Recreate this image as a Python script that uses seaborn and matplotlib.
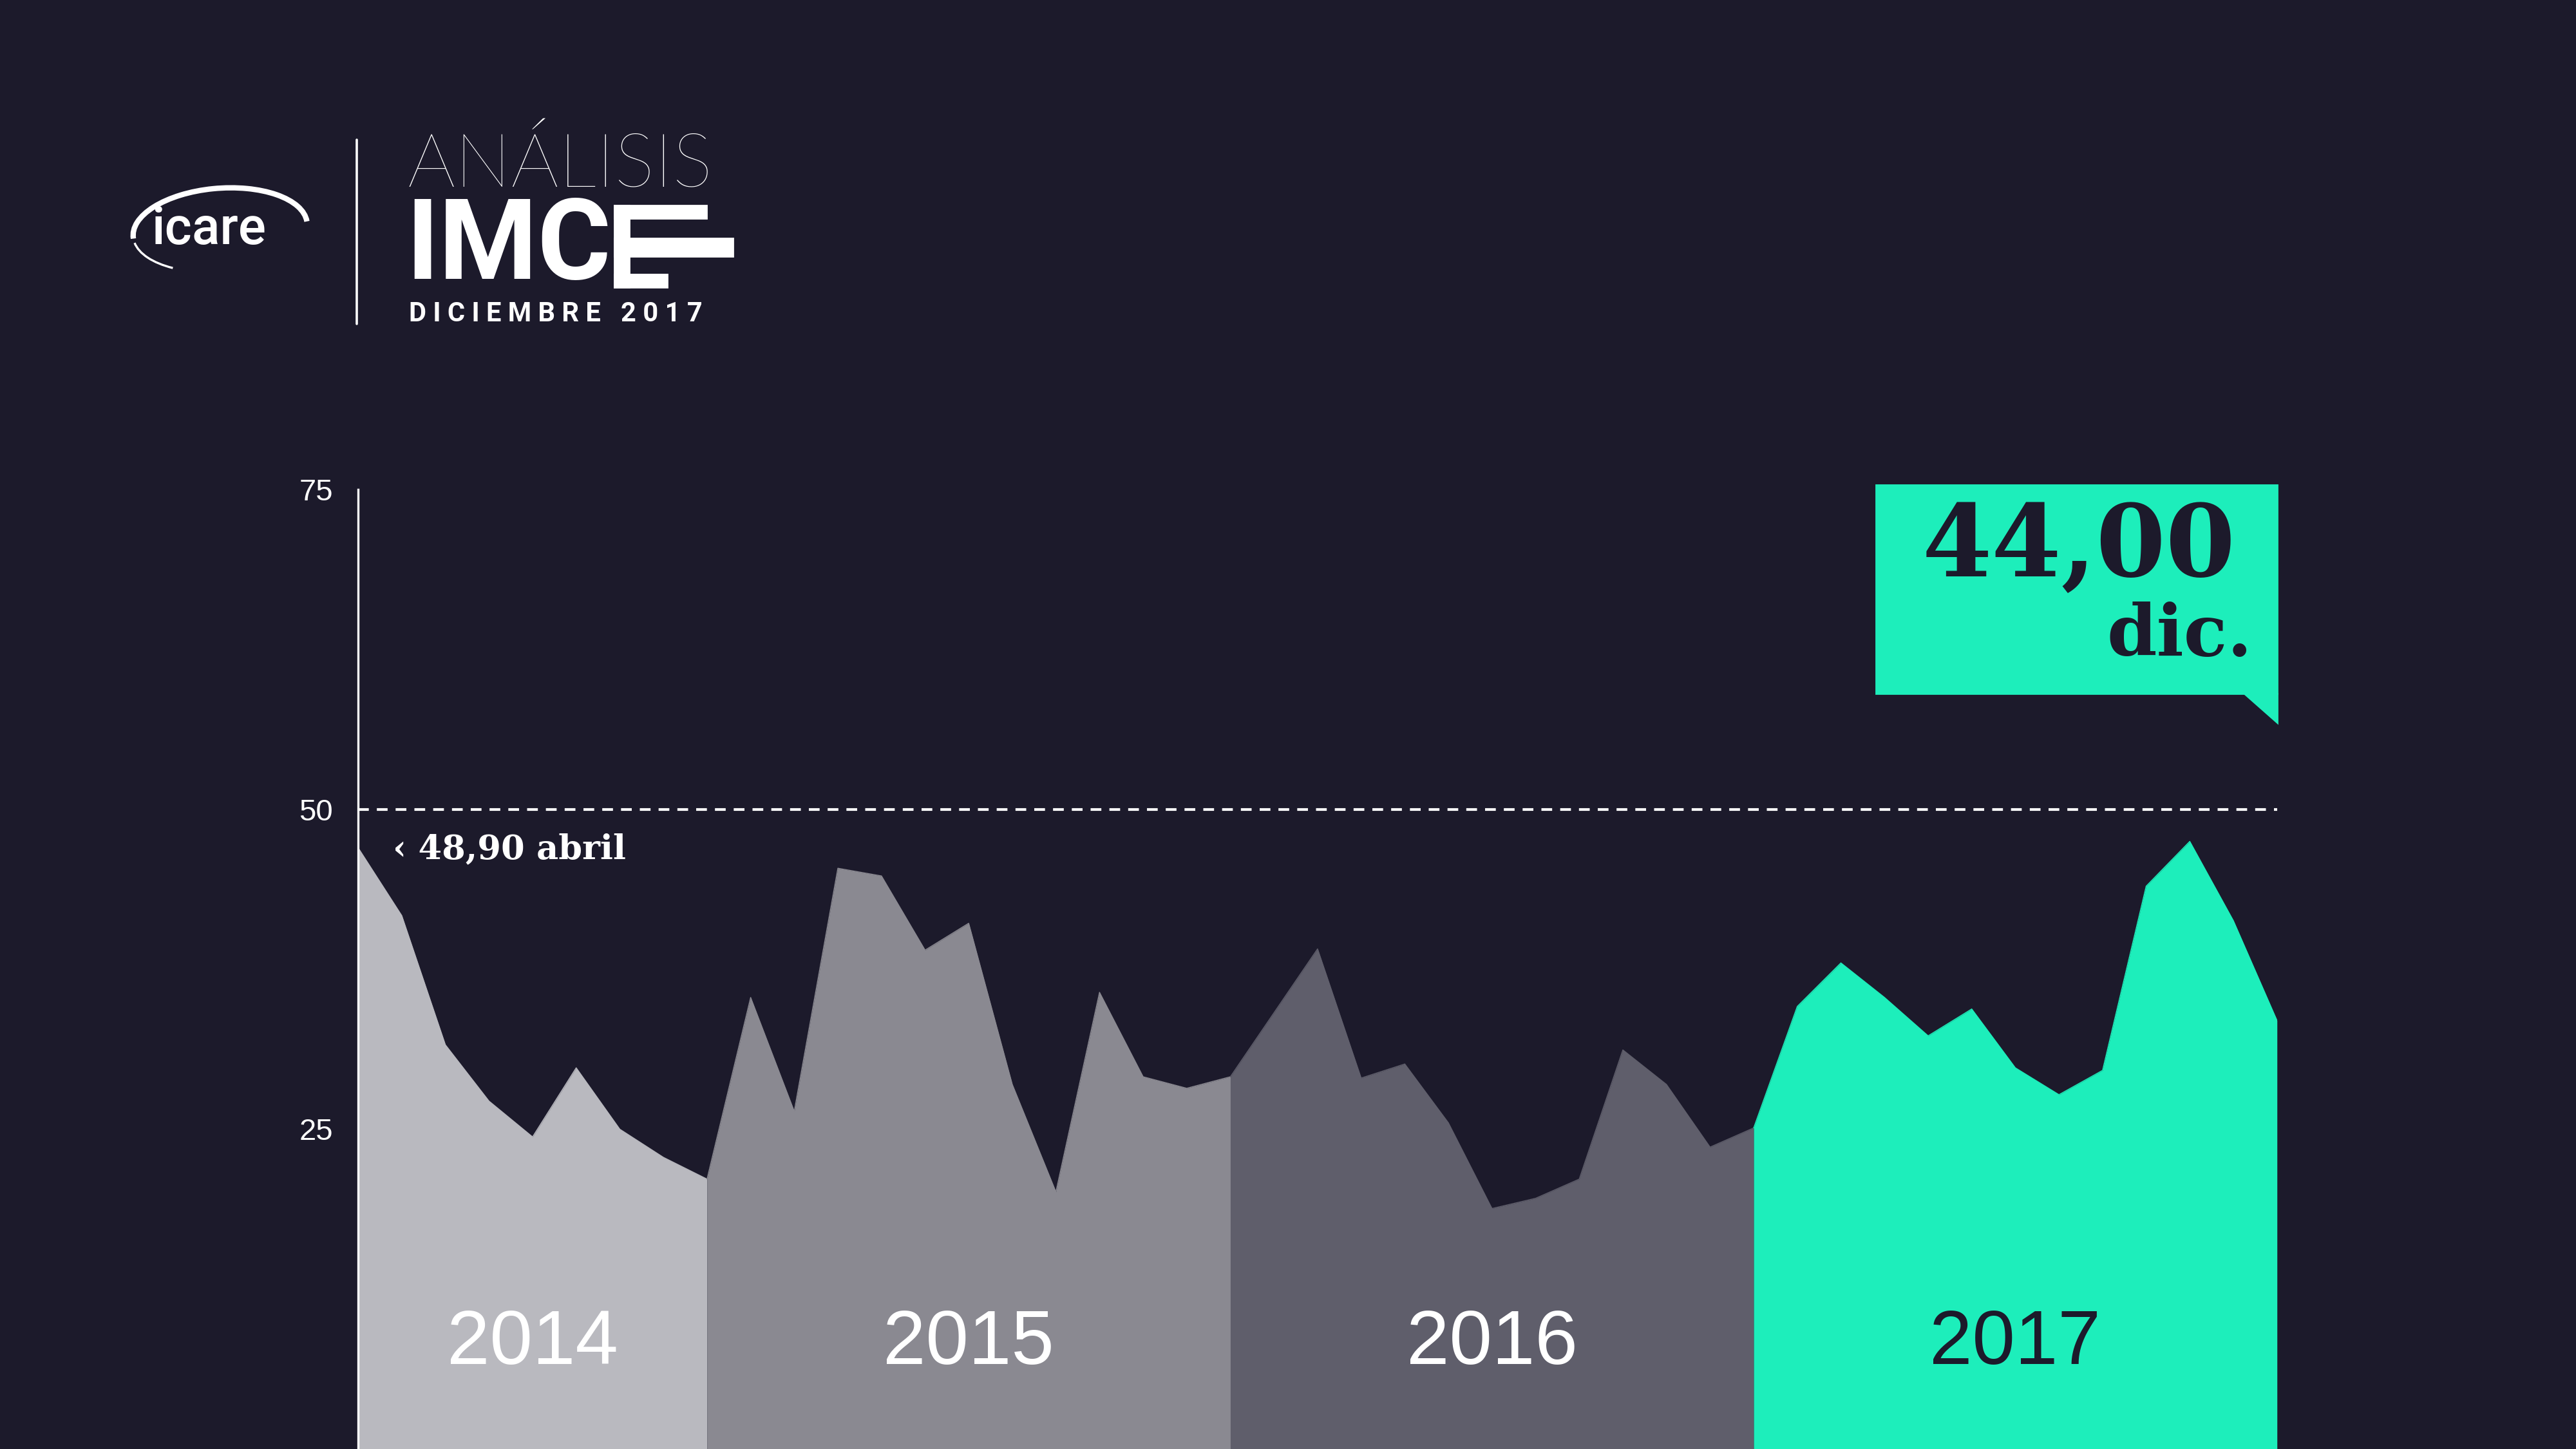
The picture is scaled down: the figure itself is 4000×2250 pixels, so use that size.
import numpy as np
import pandas as pd
import matplotlib
matplotlib.use("Agg")
import matplotlib.pyplot as plt
import seaborn as sns
from matplotlib.patches import Rectangle, Polygon, Arc

years = ["2014", "2015", "2016", "2017"]
values_2014 = [47.0, 41.7, 31.6, 27.2, 24.4, 29.8, 25.0, 22.8, 21.1]
values_2015 = [35.3, 26.4, 45.4, 44.8, 39.0, 41.1, 28.5, 20.1, 35.7, 29.1, 28.2, 29.1]
values_2016 = [34.1, 39.1, 29.0, 30.1, 25.5, 18.8, 19.6, 21.1, 31.2, 28.5, 23.6, 25.1]
values_2017 = [34.6, 38.0, 35.3, 32.3, 34.4, 29.8, 27.7, 29.6, 44.0, 47.5, 41.3, 33.5]
year_colors = ["#b9b9bf", "#8a8991", "#5f5e6b", "#1deebb"]
year_label_colors = ["white", "white", "white", "#1c1a2b"]
yticks = [25, 50, 75]
highlight_value = "44,00"
highlight_month = "dic."
peak_label = "48,90 abril"

BG = "#1c1a2b"
sns.set_style("dark")
plt.rcParams["font.family"] = ["Liberation Sans", "DejaVu Sans"]

series = [values_2014, values_2015, values_2016, values_2017]
rows = []
idx = 0
for y, vals in zip(years, series):
    for v in vals:
        rows.append({"i": idx, "year": y, "v": v})
        idx += 1
df = pd.DataFrame(rows)

W, H = 1568, 882
fig = plt.figure(figsize=(20, 11.25), dpi=200, facecolor=BG)
def fx(x): return x / W
def fy(y): return 1 - y / H

ax = fig.add_axes([fx(218), 0, fx(1386) - fx(218), fy(298)])
ax.set_facecolor(BG)
n = len(df)
ax.set_xlim(0, n - 1)
ax.set_ylim(0, 75)

start = 0
for k, (y, vals) in enumerate(zip(years, series)):
    end = start + len(vals) - 1
    lo = start - 1 if k > 0 else start
    sub = df[(df.i >= lo) & (df.i <= end)]
    ax.fill_between(sub.i, 0, sub.v, color=year_colors[k], lw=0, zorder=2)
    sns.lineplot(data=sub, x="i", y="v", ax=ax, color=year_colors[k], lw=0.5, zorder=2)
    ax.text((lo + end) / 2, 8.2, y, ha="center", va="center", fontsize=43,
            color=year_label_colors[k], zorder=3)
    start = end + 1

ax.axhline(50, color="white", lw=1.5, ls=(0, (4, 3)), zorder=1)
for s in ["top", "right", "bottom"]:
    ax.spines[s].set_visible(False)
ax.spines["left"].set_color("white")
ax.spines["left"].set_linewidth(1.2)
ax.set_yticks(yticks)
ax.set_yticklabels([str(t) for t in yticks], color="white", fontsize=17)
ax.tick_params(axis="y", length=0, pad=14)
ax.set_xticks([])
ax.set_xlabel(""); ax.set_ylabel("")
ax.grid(False)
ax.text(0.8, 46.9, "‹ " + peak_label, ha="left", va="center", fontsize=19,
        fontweight="bold", family="DejaVu Serif", color="white", zorder=4)

# callout box
fig.patches.append(Rectangle((fx(1142), fy(422)), fx(1386) - fx(1142), fy(295) - fy(422),
                             transform=fig.transFigure, color="#1deebb"))
fig.patches.append(Polygon([(fx(1366), fy(422)), (fx(1386), fy(422)), (fx(1386), fy(440))],
                           closed=True, transform=fig.transFigure, color="#1deebb"))
fig.text(fx(1361), fy(334), highlight_value, ha="right", va="center", fontsize=56,
         fontweight="bold", family="DejaVu Serif", color=BG)
fig.text(fx(1371), fy(387), highlight_month, ha="right", va="center", fontsize=40,
         fontweight="bold", family="DejaVu Serif", color=BG)

# header
fig.add_artist(plt.Line2D([fx(217), fx(217)], [fy(85), fy(197)], color="white", lw=1.3,
                          transform=fig.transFigure))
fig.text(fx(248), fy(101), "ANÁLISIS", ha="left", va="center", fontsize=42,
         family="Lato", fontweight="light", color="white")
fig.text(fx(247), fy(151), "IMC", ha="left", va="center", fontsize=63,
         family="Roboto", fontweight="bold", color="white")
for (x0, x1, y0, y1) in [(374, 383, 125, 175), (374, 430, 125, 133), (374, 446, 145, 156),
                          (374, 406, 167, 175)]:
    fig.patches.append(Rectangle((fx(x0), fy(y1)), fx(x1) - fx(x0), fy(y0) - fy(y1),
                                 transform=fig.transFigure, color="white"))
fig.text(fx(249), fy(191), "D I C I E M B R E   2 0 1 7", ha="left", va="center",
         fontsize=15, family="Roboto", fontweight="bold", color="white")
fig.text(fx(127), fy(140), "icare", ha="center", va="center", fontsize=29,
         family="Roboto", fontweight="medium", color="white")
fig.add_artist(Arc((fx(134), fy(140)), fx(108) - fx(0), fy(0) - fy(50), angle=20,
                   theta1=-10, theta2=170, color="white", lw=3, transform=fig.transFigure))
fig.add_artist(Arc((fx(134), fy(140)), fx(108) - fx(0), fy(0) - fy(50), angle=20,
                   theta1=175, theta2=215, color="white", lw=1.2, transform=fig.transFigure))

fig.savefig("out.png", dpi=200, facecolor=BG)
